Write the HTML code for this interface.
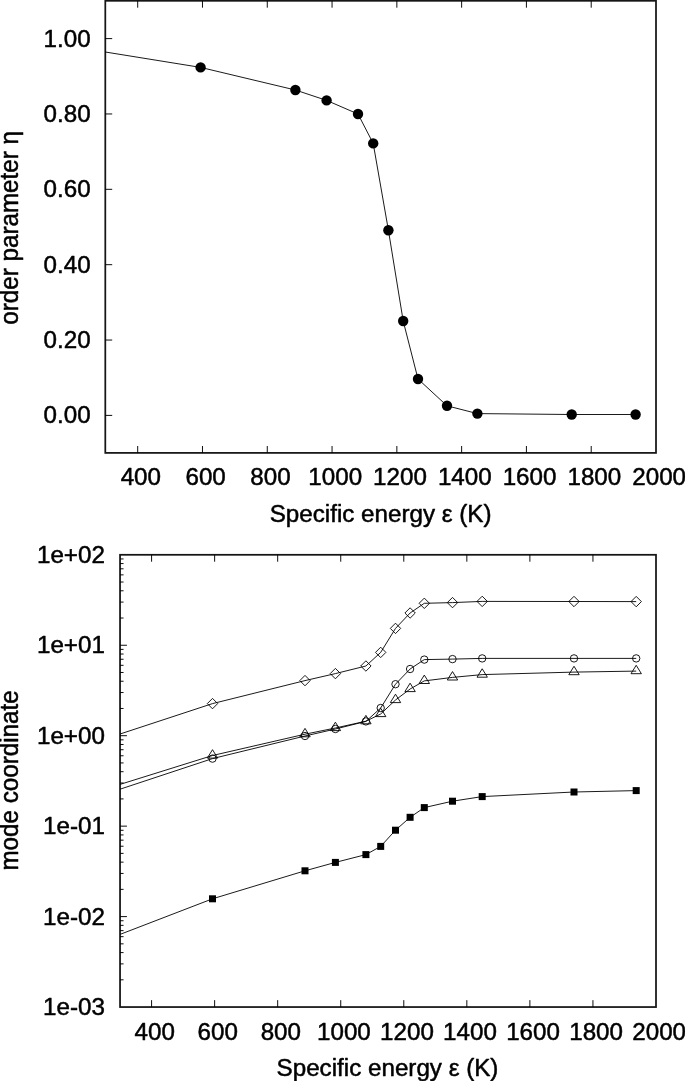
<!DOCTYPE html>
<html lang="en"><head><meta charset="utf-8"><title>Order parameter and mode coordinates vs specific energy</title>
<style>html,body{margin:0;padding:0;background:#fff}body{width:685px;height:1081px;overflow:hidden}svg{display:block}text{font-family:"Liberation Sans", sans-serif;fill:#000;stroke:#000;stroke-width:0.5px;stroke-linejoin:round}</style>
</head><body>
<svg width="685" height="1081" viewBox="0 0 685 1081">
<rect width="685" height="1081" fill="#fff"/>
<g id="top-chart">
<rect x="105.30" y="0.80" width="550.70" height="452.10" fill="none" stroke="#151515" stroke-width="1.75"/>
<line x1="137.69" y1="452.90" x2="137.69" y2="446.00" stroke="#000" stroke-width="0.95"/>
<line x1="137.69" y1="0.80" x2="137.69" y2="7.70" stroke="#000" stroke-width="0.95"/>
<line x1="202.48" y1="452.90" x2="202.48" y2="446.00" stroke="#000" stroke-width="0.95"/>
<line x1="202.48" y1="0.80" x2="202.48" y2="7.70" stroke="#000" stroke-width="0.95"/>
<line x1="267.27" y1="452.90" x2="267.27" y2="446.00" stroke="#000" stroke-width="0.95"/>
<line x1="267.27" y1="0.80" x2="267.27" y2="7.70" stroke="#000" stroke-width="0.95"/>
<line x1="332.06" y1="452.90" x2="332.06" y2="446.00" stroke="#000" stroke-width="0.95"/>
<line x1="332.06" y1="0.80" x2="332.06" y2="7.70" stroke="#000" stroke-width="0.95"/>
<line x1="396.85" y1="452.90" x2="396.85" y2="446.00" stroke="#000" stroke-width="0.95"/>
<line x1="396.85" y1="0.80" x2="396.85" y2="7.70" stroke="#000" stroke-width="0.95"/>
<line x1="461.64" y1="452.90" x2="461.64" y2="446.00" stroke="#000" stroke-width="0.95"/>
<line x1="461.64" y1="0.80" x2="461.64" y2="7.70" stroke="#000" stroke-width="0.95"/>
<line x1="526.42" y1="452.90" x2="526.42" y2="446.00" stroke="#000" stroke-width="0.95"/>
<line x1="526.42" y1="0.80" x2="526.42" y2="7.70" stroke="#000" stroke-width="0.95"/>
<line x1="591.21" y1="452.90" x2="591.21" y2="446.00" stroke="#000" stroke-width="0.95"/>
<line x1="591.21" y1="0.80" x2="591.21" y2="7.70" stroke="#000" stroke-width="0.95"/>
<line x1="105.30" y1="415.40" x2="112.20" y2="415.40" stroke="#000" stroke-width="0.95"/>
<line x1="105.30" y1="340.04" x2="112.20" y2="340.04" stroke="#000" stroke-width="0.95"/>
<line x1="105.30" y1="264.68" x2="112.20" y2="264.68" stroke="#000" stroke-width="0.95"/>
<line x1="105.30" y1="189.32" x2="112.20" y2="189.32" stroke="#000" stroke-width="0.95"/>
<line x1="105.30" y1="113.96" x2="112.20" y2="113.96" stroke="#000" stroke-width="0.95"/>
<line x1="105.30" y1="38.60" x2="112.20" y2="38.60" stroke="#000" stroke-width="0.95"/>
<polyline fill="none" stroke="#000" stroke-width="0.90" stroke-linejoin="round" points="105.30,52.00 200.60,67.40 295.40,90.00 326.60,100.40 358.00,114.00 373.20,143.40 388.40,230.20 403.20,321.00 418.00,379.00 447.00,405.80 477.40,413.60 571.70,414.50 635.60,414.50"/>
<circle cx="200.60" cy="67.40" r="5.2" fill="#000"/>
<circle cx="295.40" cy="90.00" r="5.2" fill="#000"/>
<circle cx="326.60" cy="100.40" r="5.2" fill="#000"/>
<circle cx="358.00" cy="114.00" r="5.2" fill="#000"/>
<circle cx="373.20" cy="143.40" r="5.2" fill="#000"/>
<circle cx="388.40" cy="230.20" r="5.2" fill="#000"/>
<circle cx="403.20" cy="321.00" r="5.2" fill="#000"/>
<circle cx="418.00" cy="379.00" r="5.2" fill="#000"/>
<circle cx="447.00" cy="405.80" r="5.2" fill="#000"/>
<circle cx="477.40" cy="413.60" r="5.2" fill="#000"/>
<circle cx="571.70" cy="414.50" r="5.2" fill="#000"/>
<circle cx="635.60" cy="414.50" r="5.2" fill="#000"/>
</g>
<g id="bottom-chart">
<rect x="120.05" y="554.80" width="535.95" height="452.25" fill="none" stroke="#151515" stroke-width="1.75"/>
<line x1="151.58" y1="1007.05" x2="151.58" y2="1000.15" stroke="#000" stroke-width="0.95"/>
<line x1="151.58" y1="554.80" x2="151.58" y2="561.70" stroke="#000" stroke-width="0.95"/>
<line x1="214.63" y1="1007.05" x2="214.63" y2="1000.15" stroke="#000" stroke-width="0.95"/>
<line x1="214.63" y1="554.80" x2="214.63" y2="561.70" stroke="#000" stroke-width="0.95"/>
<line x1="277.68" y1="1007.05" x2="277.68" y2="1000.15" stroke="#000" stroke-width="0.95"/>
<line x1="277.68" y1="554.80" x2="277.68" y2="561.70" stroke="#000" stroke-width="0.95"/>
<line x1="340.74" y1="1007.05" x2="340.74" y2="1000.15" stroke="#000" stroke-width="0.95"/>
<line x1="340.74" y1="554.80" x2="340.74" y2="561.70" stroke="#000" stroke-width="0.95"/>
<line x1="403.79" y1="1007.05" x2="403.79" y2="1000.15" stroke="#000" stroke-width="0.95"/>
<line x1="403.79" y1="554.80" x2="403.79" y2="561.70" stroke="#000" stroke-width="0.95"/>
<line x1="466.84" y1="1007.05" x2="466.84" y2="1000.15" stroke="#000" stroke-width="0.95"/>
<line x1="466.84" y1="554.80" x2="466.84" y2="561.70" stroke="#000" stroke-width="0.95"/>
<line x1="529.89" y1="1007.05" x2="529.89" y2="1000.15" stroke="#000" stroke-width="0.95"/>
<line x1="529.89" y1="554.80" x2="529.89" y2="561.70" stroke="#000" stroke-width="0.95"/>
<line x1="592.95" y1="1007.05" x2="592.95" y2="1000.15" stroke="#000" stroke-width="0.95"/>
<line x1="592.95" y1="554.80" x2="592.95" y2="561.70" stroke="#000" stroke-width="0.95"/>
<line x1="120.05" y1="979.82" x2="123.55" y2="979.82" stroke="#000" stroke-width="0.95"/>
<line x1="120.05" y1="963.89" x2="123.55" y2="963.89" stroke="#000" stroke-width="0.95"/>
<line x1="120.05" y1="952.59" x2="123.55" y2="952.59" stroke="#000" stroke-width="0.95"/>
<line x1="120.05" y1="943.83" x2="123.55" y2="943.83" stroke="#000" stroke-width="0.95"/>
<line x1="120.05" y1="936.67" x2="123.55" y2="936.67" stroke="#000" stroke-width="0.95"/>
<line x1="120.05" y1="930.61" x2="123.55" y2="930.61" stroke="#000" stroke-width="0.95"/>
<line x1="120.05" y1="925.37" x2="123.55" y2="925.37" stroke="#000" stroke-width="0.95"/>
<line x1="120.05" y1="920.74" x2="123.55" y2="920.74" stroke="#000" stroke-width="0.95"/>
<line x1="120.05" y1="916.60" x2="126.95" y2="916.60" stroke="#000" stroke-width="0.95"/>
<line x1="120.05" y1="889.37" x2="123.55" y2="889.37" stroke="#000" stroke-width="0.95"/>
<line x1="120.05" y1="873.44" x2="123.55" y2="873.44" stroke="#000" stroke-width="0.95"/>
<line x1="120.05" y1="862.14" x2="123.55" y2="862.14" stroke="#000" stroke-width="0.95"/>
<line x1="120.05" y1="853.38" x2="123.55" y2="853.38" stroke="#000" stroke-width="0.95"/>
<line x1="120.05" y1="846.22" x2="123.55" y2="846.22" stroke="#000" stroke-width="0.95"/>
<line x1="120.05" y1="840.16" x2="123.55" y2="840.16" stroke="#000" stroke-width="0.95"/>
<line x1="120.05" y1="834.92" x2="123.55" y2="834.92" stroke="#000" stroke-width="0.95"/>
<line x1="120.05" y1="830.29" x2="123.55" y2="830.29" stroke="#000" stroke-width="0.95"/>
<line x1="120.05" y1="826.15" x2="126.95" y2="826.15" stroke="#000" stroke-width="0.95"/>
<line x1="120.05" y1="798.92" x2="123.55" y2="798.92" stroke="#000" stroke-width="0.95"/>
<line x1="120.05" y1="782.99" x2="123.55" y2="782.99" stroke="#000" stroke-width="0.95"/>
<line x1="120.05" y1="771.69" x2="123.55" y2="771.69" stroke="#000" stroke-width="0.95"/>
<line x1="120.05" y1="762.93" x2="123.55" y2="762.93" stroke="#000" stroke-width="0.95"/>
<line x1="120.05" y1="755.77" x2="123.55" y2="755.77" stroke="#000" stroke-width="0.95"/>
<line x1="120.05" y1="749.71" x2="123.55" y2="749.71" stroke="#000" stroke-width="0.95"/>
<line x1="120.05" y1="744.47" x2="123.55" y2="744.47" stroke="#000" stroke-width="0.95"/>
<line x1="120.05" y1="739.84" x2="123.55" y2="739.84" stroke="#000" stroke-width="0.95"/>
<line x1="120.05" y1="735.70" x2="126.95" y2="735.70" stroke="#000" stroke-width="0.95"/>
<line x1="120.05" y1="708.47" x2="123.55" y2="708.47" stroke="#000" stroke-width="0.95"/>
<line x1="120.05" y1="692.54" x2="123.55" y2="692.54" stroke="#000" stroke-width="0.95"/>
<line x1="120.05" y1="681.24" x2="123.55" y2="681.24" stroke="#000" stroke-width="0.95"/>
<line x1="120.05" y1="672.48" x2="123.55" y2="672.48" stroke="#000" stroke-width="0.95"/>
<line x1="120.05" y1="665.32" x2="123.55" y2="665.32" stroke="#000" stroke-width="0.95"/>
<line x1="120.05" y1="659.26" x2="123.55" y2="659.26" stroke="#000" stroke-width="0.95"/>
<line x1="120.05" y1="654.02" x2="123.55" y2="654.02" stroke="#000" stroke-width="0.95"/>
<line x1="120.05" y1="649.39" x2="123.55" y2="649.39" stroke="#000" stroke-width="0.95"/>
<line x1="120.05" y1="645.25" x2="126.95" y2="645.25" stroke="#000" stroke-width="0.95"/>
<line x1="120.05" y1="618.02" x2="123.55" y2="618.02" stroke="#000" stroke-width="0.95"/>
<line x1="120.05" y1="602.09" x2="123.55" y2="602.09" stroke="#000" stroke-width="0.95"/>
<line x1="120.05" y1="590.79" x2="123.55" y2="590.79" stroke="#000" stroke-width="0.95"/>
<line x1="120.05" y1="582.03" x2="123.55" y2="582.03" stroke="#000" stroke-width="0.95"/>
<line x1="120.05" y1="574.87" x2="123.55" y2="574.87" stroke="#000" stroke-width="0.95"/>
<line x1="120.05" y1="568.81" x2="123.55" y2="568.81" stroke="#000" stroke-width="0.95"/>
<line x1="120.05" y1="563.57" x2="123.55" y2="563.57" stroke="#000" stroke-width="0.95"/>
<line x1="120.05" y1="558.94" x2="123.55" y2="558.94" stroke="#000" stroke-width="0.95"/>
<polyline fill="none" stroke="#000" stroke-width="0.90" stroke-linejoin="round" points="120.05,734.00 212.50,703.60 305.00,680.60 335.40,673.60 365.90,666.00 380.70,652.40 395.50,628.40 410.10,613.00 424.30,603.30 452.50,602.60 482.20,601.40 574.00,601.50 636.20,601.60"/>
<polyline fill="none" stroke="#000" stroke-width="0.90" stroke-linejoin="round" points="120.05,789.20 212.50,758.60 305.00,736.00 335.40,729.00 365.90,721.40 380.70,708.00 395.50,684.20 410.10,669.00 424.30,659.60 452.50,659.10 482.20,658.40 574.00,658.40 636.20,658.40"/>
<polyline fill="none" stroke="#000" stroke-width="0.90" stroke-linejoin="round" points="120.05,784.40 212.50,755.50 305.00,734.20 335.40,728.00 365.90,721.20 380.70,714.00 395.50,700.00 410.10,689.00 424.30,680.90 452.50,677.40 482.20,674.60 574.00,672.10 636.20,671.10"/>
<polyline fill="none" stroke="#000" stroke-width="0.90" stroke-linejoin="round" points="120.05,934.40 212.50,898.80 305.00,870.80 335.40,862.40 365.90,854.60 380.70,846.40 395.50,830.20 410.10,817.30 424.30,807.60 452.50,801.20 482.20,796.60 574.00,792.00 636.20,790.60"/>
<path d="M212.50 698.40L217.70 703.60L212.50 708.80L207.30 703.60Z" fill="none" stroke="#000" stroke-width="0.90"/>
<path d="M305.00 675.40L310.20 680.60L305.00 685.80L299.80 680.60Z" fill="none" stroke="#000" stroke-width="0.90"/>
<path d="M335.40 668.40L340.60 673.60L335.40 678.80L330.20 673.60Z" fill="none" stroke="#000" stroke-width="0.90"/>
<path d="M365.90 660.80L371.10 666.00L365.90 671.20L360.70 666.00Z" fill="none" stroke="#000" stroke-width="0.90"/>
<path d="M380.70 647.20L385.90 652.40L380.70 657.60L375.50 652.40Z" fill="none" stroke="#000" stroke-width="0.90"/>
<path d="M395.50 623.20L400.70 628.40L395.50 633.60L390.30 628.40Z" fill="none" stroke="#000" stroke-width="0.90"/>
<path d="M410.10 607.80L415.30 613.00L410.10 618.20L404.90 613.00Z" fill="none" stroke="#000" stroke-width="0.90"/>
<path d="M424.30 598.10L429.50 603.30L424.30 608.50L419.10 603.30Z" fill="none" stroke="#000" stroke-width="0.90"/>
<path d="M452.50 597.40L457.70 602.60L452.50 607.80L447.30 602.60Z" fill="none" stroke="#000" stroke-width="0.90"/>
<path d="M482.20 596.20L487.40 601.40L482.20 606.60L477.00 601.40Z" fill="none" stroke="#000" stroke-width="0.90"/>
<path d="M574.00 596.30L579.20 601.50L574.00 606.70L568.80 601.50Z" fill="none" stroke="#000" stroke-width="0.90"/>
<path d="M636.20 596.40L641.40 601.60L636.20 606.80L631.00 601.60Z" fill="none" stroke="#000" stroke-width="0.90"/>
<circle cx="212.50" cy="758.60" r="3.7" fill="none" stroke="#000" stroke-width="0.90"/>
<circle cx="305.00" cy="736.00" r="3.7" fill="none" stroke="#000" stroke-width="0.90"/>
<circle cx="335.40" cy="729.00" r="3.7" fill="none" stroke="#000" stroke-width="0.90"/>
<circle cx="365.90" cy="721.40" r="3.7" fill="none" stroke="#000" stroke-width="0.90"/>
<circle cx="380.70" cy="708.00" r="3.7" fill="none" stroke="#000" stroke-width="0.90"/>
<circle cx="395.50" cy="684.20" r="3.7" fill="none" stroke="#000" stroke-width="0.90"/>
<circle cx="410.10" cy="669.00" r="3.7" fill="none" stroke="#000" stroke-width="0.90"/>
<circle cx="424.30" cy="659.60" r="3.7" fill="none" stroke="#000" stroke-width="0.90"/>
<circle cx="452.50" cy="659.10" r="3.7" fill="none" stroke="#000" stroke-width="0.90"/>
<circle cx="482.20" cy="658.40" r="3.7" fill="none" stroke="#000" stroke-width="0.90"/>
<circle cx="574.00" cy="658.40" r="3.7" fill="none" stroke="#000" stroke-width="0.90"/>
<circle cx="636.20" cy="658.40" r="3.7" fill="none" stroke="#000" stroke-width="0.90"/>
<path d="M212.50 749.68L217.70 758.10L207.30 758.10Z" fill="none" stroke="#000" stroke-width="0.90"/>
<path d="M305.00 728.38L310.20 736.80L299.80 736.80Z" fill="none" stroke="#000" stroke-width="0.90"/>
<path d="M335.40 722.18L340.60 730.60L330.20 730.60Z" fill="none" stroke="#000" stroke-width="0.90"/>
<path d="M365.90 715.38L371.10 723.80L360.70 723.80Z" fill="none" stroke="#000" stroke-width="0.90"/>
<path d="M380.70 708.18L385.90 716.60L375.50 716.60Z" fill="none" stroke="#000" stroke-width="0.90"/>
<path d="M395.50 694.18L400.70 702.60L390.30 702.60Z" fill="none" stroke="#000" stroke-width="0.90"/>
<path d="M410.10 683.18L415.30 691.60L404.90 691.60Z" fill="none" stroke="#000" stroke-width="0.90"/>
<path d="M424.30 675.08L429.50 683.50L419.10 683.50Z" fill="none" stroke="#000" stroke-width="0.90"/>
<path d="M452.50 671.58L457.70 680.00L447.30 680.00Z" fill="none" stroke="#000" stroke-width="0.90"/>
<path d="M482.20 668.78L487.40 677.20L477.00 677.20Z" fill="none" stroke="#000" stroke-width="0.90"/>
<path d="M574.00 666.28L579.20 674.70L568.80 674.70Z" fill="none" stroke="#000" stroke-width="0.90"/>
<path d="M636.20 665.28L641.40 673.70L631.00 673.70Z" fill="none" stroke="#000" stroke-width="0.90"/>
<rect x="209.00" y="895.30" width="7.00" height="7.00" fill="#000"/>
<rect x="301.50" y="867.30" width="7.00" height="7.00" fill="#000"/>
<rect x="331.90" y="858.90" width="7.00" height="7.00" fill="#000"/>
<rect x="362.40" y="851.10" width="7.00" height="7.00" fill="#000"/>
<rect x="377.20" y="842.90" width="7.00" height="7.00" fill="#000"/>
<rect x="392.00" y="826.70" width="7.00" height="7.00" fill="#000"/>
<rect x="406.60" y="813.80" width="7.00" height="7.00" fill="#000"/>
<rect x="420.80" y="804.10" width="7.00" height="7.00" fill="#000"/>
<rect x="449.00" y="797.70" width="7.00" height="7.00" fill="#000"/>
<rect x="478.70" y="793.10" width="7.00" height="7.00" fill="#000"/>
<rect x="570.50" y="788.50" width="7.00" height="7.00" fill="#000"/>
<rect x="632.70" y="787.10" width="7.00" height="7.00" fill="#000"/>
</g>
<g id="labels">
<text transform="translate(140.84 485.40)" font-size="24.20" text-anchor="middle">400</text>
<text transform="translate(154.73 1040.00)" font-size="24.20" text-anchor="middle">400</text>
<text transform="translate(205.63 485.40)" font-size="24.20" text-anchor="middle">600</text>
<text transform="translate(217.78 1040.00)" font-size="24.20" text-anchor="middle">600</text>
<text transform="translate(270.42 485.40)" font-size="24.20" text-anchor="middle">800</text>
<text transform="translate(280.83 1040.00)" font-size="24.20" text-anchor="middle">800</text>
<text transform="translate(335.21 485.40)" font-size="24.20" text-anchor="middle">1000</text>
<text transform="translate(343.89 1040.00)" font-size="24.20" text-anchor="middle">1000</text>
<text transform="translate(400.00 485.40)" font-size="24.20" text-anchor="middle">1200</text>
<text transform="translate(406.94 1040.00)" font-size="24.20" text-anchor="middle">1200</text>
<text transform="translate(464.79 485.40)" font-size="24.20" text-anchor="middle">1400</text>
<text transform="translate(469.99 1040.00)" font-size="24.20" text-anchor="middle">1400</text>
<text transform="translate(529.57 485.40)" font-size="24.20" text-anchor="middle">1600</text>
<text transform="translate(533.04 1040.00)" font-size="24.20" text-anchor="middle">1600</text>
<text transform="translate(594.36 485.40)" font-size="24.20" text-anchor="middle">1800</text>
<text transform="translate(596.10 1040.00)" font-size="24.20" text-anchor="middle">1800</text>
<text transform="translate(659.15 485.40)" font-size="24.20" text-anchor="middle">2000</text>
<text transform="translate(659.15 1040.00)" font-size="24.20" text-anchor="middle">2000</text>
<text transform="translate(90.70 423.40)" font-size="24.20" text-anchor="end">0.00</text>
<text transform="translate(90.70 348.04)" font-size="24.20" text-anchor="end">0.20</text>
<text transform="translate(90.70 272.68)" font-size="24.20" text-anchor="end">0.40</text>
<text transform="translate(90.70 197.32)" font-size="24.20" text-anchor="end">0.60</text>
<text transform="translate(90.70 121.96)" font-size="24.20" text-anchor="end">0.80</text>
<text transform="translate(90.70 46.60)" font-size="24.20" text-anchor="end">1.00</text>
<text transform="translate(104.90 1015.05)" font-size="24.20" text-anchor="end">1e-03</text>
<text transform="translate(104.90 924.60)" font-size="24.20" text-anchor="end">1e-02</text>
<text transform="translate(104.90 834.15)" font-size="24.20" text-anchor="end">1e-01</text>
<text transform="translate(104.90 743.70)" font-size="24.20" text-anchor="end">1e+00</text>
<text transform="translate(104.90 653.25)" font-size="24.20" text-anchor="end">1e+01</text>
<text transform="translate(104.90 562.80)" font-size="24.20" text-anchor="end">1e+02</text>
<text transform="translate(380.60 521.70)" font-size="24.20" text-anchor="middle">Specific energy ε (K)</text>
<text transform="translate(387.50 1075.50)" font-size="24.20" text-anchor="middle">Specific energy ε (K)</text>
<text transform="translate(18.40 227.90) rotate(-90) scale(1.0000 1.0600)" font-size="24.20" text-anchor="middle">order parameter η</text>
<text transform="translate(17.90 780.50) rotate(-90) scale(1.0000 1.0600)" font-size="24.20" text-anchor="middle">mode coordinate</text>
</g>
</svg></body></html>
